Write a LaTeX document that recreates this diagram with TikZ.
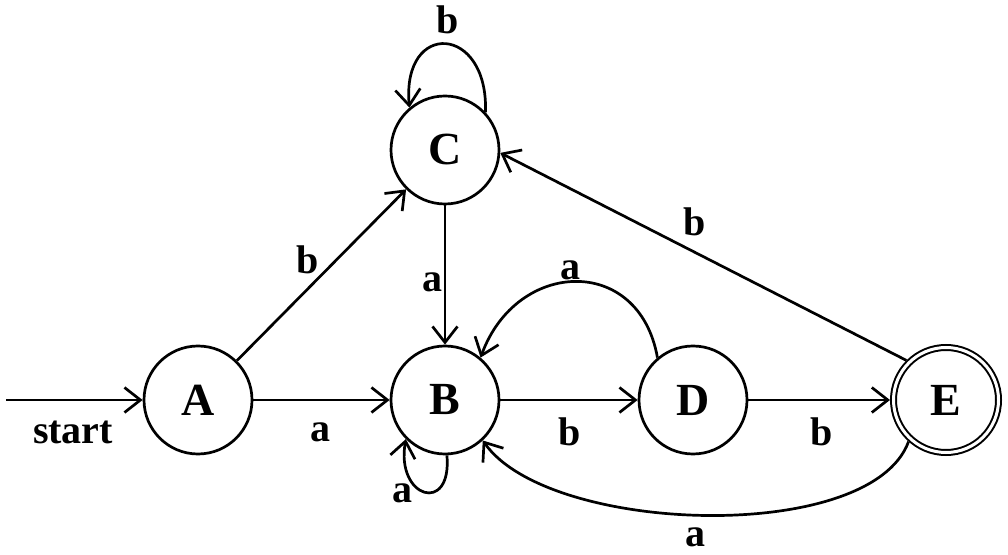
\documentclass[tikz,border=0pt]{standalone}
\usepackage{fontspec}
\setmainfont{Liberation Serif}
\usetikzlibrary{arrows.meta}
\begin{document}
\begin{tikzpicture}[x=1pt,y=1pt,
  state/.style={circle, draw, line width=2.7pt, minimum size=108pt, inner sep=0pt,
    font=\fontsize{46}{46}\selectfont\bfseries},
  accept/.style={state, double, double distance=3pt, line width=2pt, minimum size=105pt, outer sep=3.5pt},
  lbl/.style={font=\fontsize{40}{40}\selectfont\bfseries, inner sep=0pt},
  tr/.style={line width=2.7pt, -{Straight Barb[length=16pt,width=25pt]}}
]
\useasboundingbox (0,0) rectangle (1008,554);
\node[state] (A) at (198,154) {A};
\node[state] (B) at (445,154) {B};
\node[state] (C) at (445,404) {C};
\node[state] (D) at (693,154) {D};
\node[accept] (E) at (946,154) {E};
\coordinate (start) at (6,154);

\draw[tr] (start) -- (A);
\draw[tr] (A) -- (B);
\draw[tr] (A) -- (C);
\draw[tr] (C) -- (B);
\draw[tr] (B) -- (D);
\draw[tr] (D) -- (E);
\draw[tr] (E.135) -- (C.357);
\draw[tr] (D.130) .. controls +(100:105) and +(70:105) .. (B.50);
\draw[tr] (E.228) .. controls +(250:110) and +(305:115) .. (B.313);
\draw[tr] (C.43) .. controls +(88:88) and +(95:88) .. (C.130);
\draw[tr] (B.272) .. controls +(275:60) and +(260:60) .. (B.225);

\node[lbl] (lstart) at (73,122) {start};
\node[lbl] (lab) at (320,122) {a};
\node[lbl] (lbd) at (570,122) {b};
\node[lbl] (lde) at (822,122) {b};
\node[lbl] (leb) at (695,17) {a};
\node[lbl] (lbb) at (402,61) {a};
\node[lbl] (lcc) at (448,534) {b};
\node[lbl] (lcb) at (432,272) {a};
\node[lbl] (lac) at (308,294) {b};
\node[lbl] (lec) at (695,332) {b};
\node[lbl] (ldb) at (570,284) {a};
\end{tikzpicture}
\end{document}
